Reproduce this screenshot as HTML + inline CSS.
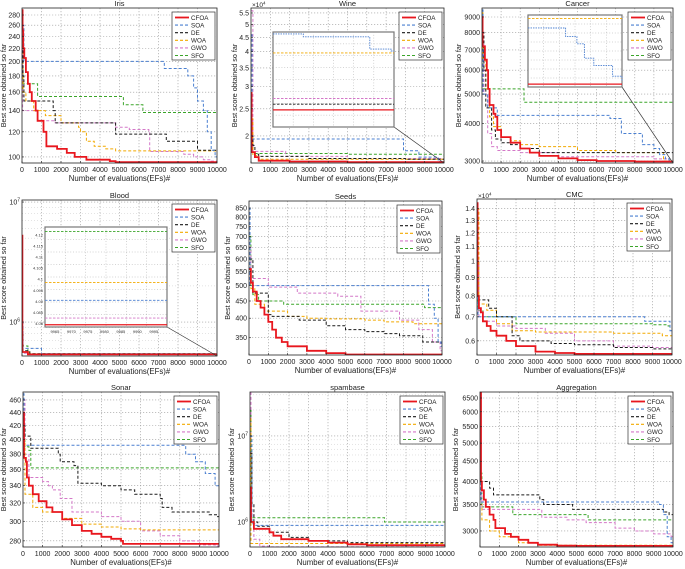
<!DOCTYPE html>
<html><head><meta charset="utf-8"><style>
body{margin:0;background:#fff}
svg{display:block;font-family:"Liberation Sans",Arial,sans-serif}
</style></head><body>
<svg id="fig" width="685" height="569" viewBox="0 0 685 569"></svg>
<script>
// ---------- data ----------
const algoNames = ["CFOA","SOA","DE","WOA","GWO","SFO"];
const xTicks = [0,1000,2000,3000,4000,5000,6000,7000,8000,9000,10000];

const irisCFOA=[[0,290],[30,250],[60,220],[120,205],[200,185],[300,170],[400,160],[500,150],[700,140],[800,130],[1100,120],[1250,108],[1800,106],[2300,103],[2700,100],[3300,98],[4500,97],[4800,96.3]];
const irisSOA=[[0,260],[100,200],[7300,190],[8500,180],[8800,165],[9000,150],[9300,140],[9500,120],[9700,105],[9900,100]];
const irisDE=[[0,240],[50,180],[100,150],[1600,140],[1700,128],[4800,118],[7400,112],[9000,105]];
const irisWOA=[[0,230],[50,160],[200,150],[600,140],[1200,135],[2000,128],[2900,124],[3000,120],[3300,112],[3700,108],[4300,106],[4800,104.5]];
const irisGWO=[[0,280],[30,140],[700,140],[800,130],[1700,128],[4600,128],[4800,124],[5500,122],[6500,120],[6550,104],[8300,102],[8800,100],[9300,98],[9700,97]];
const irisSFO=[[0,190],[50,170],[800,155],[5200,146],[6200,138]];

const wineCFOA=[[0,2.85],[30,1.75],[200,1.68],[400,1.63],[2000,1.62],[5000,1.61]];
const wineSOA=[[0,4.6],[50,1.95],[7900,1.77],[8700,1.68],[9700,1.62]];
const wineDE=[[0,2.0],[100,1.85],[200,1.72],[400,1.69],[3000,1.66],[8000,1.65]];
const wineWOA=[[0,2.3],[100,1.7],[400,1.65],[10000,1.65]];
const wineGWO=[[0,5.6],[100,1.76],[1800,1.69],[5000,1.66]];
const wineSFO=[[0,1.9],[100,1.73],[5000,1.72],[10000,1.66]];

const cancerCFOA=[[0,9000],[30,7200],[150,6500],[250,6000],[320,5200],[400,4600],[600,4300],[700,4200],[800,3800],[1000,3600],[1500,3450],[2000,3300],[2500,3200],[3000,3120],[4000,3060],[5000,3020],[6000,3000],[8000,2990]];
const cancerSOA=[[0,9500],[50,5000],[300,4500],[800,4250],[6700,4150],[7300,3700],[8400,3400],[9000,3300],[9300,3150],[9600,3050],[9800,2980]];
const cancerDE=[[0,8000],[100,6000],[200,4500],[500,3800],[700,3550],[1000,3450],[1500,3400],[2000,3300],[3000,3200]];
const cancerWOA=[[0,9300],[50,6500],[200,5200],[400,4200],[600,3900],[1000,3600],[1500,3500],[2000,3400],[3000,3350],[5000,3250],[7000,3200],[9500,3000]];
const cancerGWO=[[0,7500],[100,5000],[300,3700],[500,3350],[800,3250],[2000,3200],[4000,3100],[9000,3050],[9800,3000]];
const cancerSFO=[[0,8500],[50,5200],[2200,4700]];

const bloodCFOA=[[0,6.72],[20,5.75],[300,5.73]];
const bloodSOA=[[0,6.0],[50,5.78],[1000,5.735]];
const bloodDE=[[0,5.9],[50,5.76],[400,5.735]];
const bloodWOA=[[0,5.95],[50,5.75],[400,5.73]];
const bloodGWO=[[0,6.1],[30,5.74],[300,5.73]];
const bloodSFO=[[0,5.85],[50,5.8],[300,5.735]];

const seedsCFOA=[[0,560],[100,510],[200,480],[400,450],[600,430],[800,410],[1000,390],[1200,370],[1400,350],[1700,340],[2000,330],[3000,320],[4000,315],[5000,312]];
const seedsSOA=[[0,850],[50,500],[9300,440],[9600,400],[9800,340],[9950,330]];
const seedsDE=[[0,600],[200,475],[1000,410],[1200,405],[2600,395],[4000,380],[5000,370],[6000,365],[7000,360],[7800,355],[9000,340]];
const seedsWOA=[[0,560],[100,490],[300,440],[800,420],[2000,405],[3000,400],[4000,398],[6000,395],[7000,390],[8500,385]];
const seedsGWO=[[0,650],[100,525],[1000,495],[2500,475],[4600,465],[5800,420],[7800,395],[8800,370],[9500,340],[9900,320]];
const seedsSFO=[[0,700],[100,500],[200,470],[500,450],[1800,440],[9100,430]];

const cmcCFOA=[[0,1.45],[30,0.8],[100,0.74],[200,0.72],[300,0.68],[500,0.66],[700,0.64],[1000,0.62],[1500,0.6],[2000,0.58],[3000,0.56],[4000,0.555],[5000,0.552]];
const cmcSOA=[[0,1.2],[50,0.7],[8600,0.68],[9900,0.64]];
const cmcDE=[[0,1.3],[50,0.78],[600,0.74],[1000,0.7],[1800,0.62],[2200,0.6],[3800,0.59],[5000,0.585],[7000,0.575],[9000,0.57]];
const cmcWOA=[[0,1.4],[100,0.76],[500,0.73],[1000,0.67],[1800,0.64],[3000,0.635],[7000,0.63],[9500,0.62]];
const cmcGWO=[[0,1.0],[100,0.7],[300,0.68],[1000,0.66],[2000,0.65],[3500,0.63],[5000,0.6],[7000,0.58],[9000,0.575]];
const cmcSFO=[[0,1.1],[50,0.73],[300,0.7],[2000,0.67],[9000,0.665],[9800,0.66]];

const sonarCFOA=[[0,440],[50,375],[150,370],[200,350],[300,340],[500,330],[800,322],[1200,315],[1500,310],[2000,302],[2500,296],[3000,290],[3500,287],[4000,284],[4500,282],[5000,280],[5100,277]];
const sonarSOA=[[0,470],[50,392],[8300,380],[8800,370],[9300,355],[9800,340]];
const sonarDE=[[0,420],[100,405],[400,388],[1800,380],[1900,370],[2600,365],[2800,343],[4000,340],[5000,335],[5700,330],[7000,325],[7100,315],[7600,310],[9500,307],[9900,305]];
const sonarWOA=[[0,400],[100,330],[500,315],[1000,310],[2000,303],[3000,297],[4000,294],[5000,292],[6000,291]];
const sonarGWO=[[0,460],[100,380],[300,350],[1000,345],[1300,340],[1500,335],[1900,325],[2500,310],[4000,305],[5000,300],[6000,290],[7000,285],[8000,280],[9000,276],[9800,275]];
const sonarSFO=[[0,420],[100,390],[300,385],[400,362]];

const spamCFOA=[[0,6.4],[50,6.0],[200,5.92],[1000,5.88],[1200,5.84],[1600,5.8],[3000,5.78],[4000,5.76],[5000,5.74],[6000,5.73]];
const spamSOA=[[0,7.0],[100,5.98],[300,5.96]];
const spamDE=[[0,6.8],[100,6.2],[200,6.0],[400,5.95],[1000,5.88],[2000,5.82],[3000,5.78],[5000,5.76]];
const spamWOA=[[0,7.2],[50,5.75]];
const spamGWO=[[0,7.5],[50,6.1],[200,5.8],[500,5.72],[1000,5.71]];
const spamSFO=[[0,7.3],[50,6.05],[6800,6.05],[6900,6.0]];

const aggCFOA=[[0,6700],[50,4000],[100,3800],[200,3600],[300,3450],[500,3300],[700,3200],[800,3050],[1300,2950],[1600,2900],[2000,2850],[2500,2800],[3000,2770],[4000,2755],[5000,2750]];
const aggSOA=[[0,5000],[50,3550],[9300,3500],[9500,3300],[9700,2900],[9900,2800]];
const aggDE=[[0,4500],[50,4000],[500,3850],[700,3700],[3100,3600],[3300,3500],[4800,3400],[9500,3350],[9800,3300]];
const aggWOA=[[0,3500],[100,3200],[500,3000],[1000,2900],[2000,2800],[3000,2760]];
const aggGWO=[[0,4000],[100,3400],[3200,3250],[4500,3200],[5500,3150],[7000,3050],[8000,3000],[9000,2950],[9900,2900]];
const aggSFO=[[0,4200],[100,3450],[1700,3300],[5600,3200]];

const irisYTicks=[100,120,140,160,180,200,220,240,260,280];
const wineYTicks=[2,2.5,3,3.5,4,4.5,5,5.5];
const cancerYTicks=[3000,4000,5000,6000,7000,8000,9000];
const bloodYTicks=[6,7];
const seedsYTicks=[350,400,450,500,550,600,650,700,750,800,850];
const cmcYTicks=[0.6,0.7,0.8,0.9,1,1.1,1.2,1.3,1.4];
const sonarYTicks=[280,300,320,340,360,380,400,420,440,460];
const spamYTicks=[6,7];
const aggYTicks=[3000,3500,4000,4500,5000,5500,6000,6500];

// inset data (zoomed-in final values)
const wineInsetSOA=[[9600,0.98],[9700,0.95],[9920,0.82],[9990,0.8]];
const wineInsetLevels=[["WOA",0.78],["GWO",0.3],["DE",0.24],["CFOA",0.18]];
const cancerInsetSOA=[[9600,0.82],[9700,0.7],[9760,0.6],[9800,0.4],[9850,0.3],[9950,0.15],[10000,0.08]];
const cancerInsetLevels=[["WOA",0.95],["CFOA",0.04]];
const bloodInsetLevels=[["SFO",4.1215],["WOA",4.0985],["SOA",4.0905],["GWO",4.0825],["CFOA",4.0795]];
const bloodInsetYTicks=[4.08,4.085,4.09,4.095,4.1,4.105,4.11,4.115,4.12];
const bloodInsetXTicks=[9965,9970,9975,9980,9985,9990,9995];

// ---------- rendering ----------
const colors={CFOA:"#e8171e",SOA:"#4a7fd0",DE:"#1a1a1a",WOA:"#f2a900",GWO:"#d478c8",SFO:"#3ba52a"};
const NS="http://www.w3.org/2000/svg";
const svg=document.getElementById("fig");
function mk(tag,attrs,parent){const e=document.createElementNS(NS,tag);for(const k in attrs)e.setAttribute(k,attrs[k]);(parent||svg).appendChild(e);return e;}

const panels=[
 {id:"iris",title:"Iris",L:22,R:217,T:8,B:163,scale:"log",y0:95.7,y1:294.6,yt:irisYTicks,series:[irisCFOA,irisSOA,irisDE,irisWOA,irisGWO,irisSFO],ylx:3},
 {id:"wine",title:"Wine",L:251,R:444,T:8,B:163,scale:"log",y0:1.6,y1:5.73,yt:wineYTicks,series:[wineCFOA,wineSOA,wineDE,wineWOA,wineGWO,wineSFO],mult:"4",ylx:234},
 {id:"cancer",title:"Cancer",L:482,R:673,T:8,B:163,scale:"log",y0:2955,y1:9640,yt:cancerYTicks,series:[cancerCFOA,cancerSOA,cancerDE,cancerWOA,cancerGWO,cancerSFO],ylx:458},
 {id:"blood",title:"Blood",L:22,R:217,T:200,B:356,scale:"exp",y0:5.717,y1:7.017,yt:bloodYTicks,series:[bloodCFOA,bloodSOA,bloodDE,bloodWOA,bloodGWO,bloodSFO],ylx:3},
 {id:"seeds",title:"Seeds",L:249,R:442,T:201,B:355,scale:"log",y0:311,y1:892,yt:seedsYTicks,series:[seedsCFOA,seedsSOA,seedsDE,seedsWOA,seedsGWO,seedsSFO],ylx:227},
 {id:"cmc",title:"CMC",L:477,R:672,T:199,B:355,scale:"log",y0:0.548,y1:1.49,yt:cmcYTicks,series:[cmcCFOA,cmcSOA,cmcDE,cmcWOA,cmcGWO,cmcSFO],mult:"4",ylx:457},
 {id:"sonar",title:"Sonar",L:23,R:219,T:392,B:547,scale:"log",y0:274,y1:473,yt:sonarYTicks,series:[sonarCFOA,sonarSOA,sonarDE,sonarWOA,sonarGWO,sonarSFO],ylx:3},
 {id:"spambase",title:"spambase",L:250,R:445,T:392,B:547,scale:"exp",y0:5.709,y1:7.51,yt:spamYTicks,series:[spamCFOA,spamSOA,spamDE,spamWOA,spamGWO,spamSFO],ylx:231},
 {id:"aggregation",title:"Aggregation",L:480,R:673,T:392,B:547,scale:"log",y0:2733,y1:6731,yt:aggYTicks,series:[aggCFOA,aggSOA,aggDE,aggWOA,aggGWO,aggSFO],ylx:455}
];

function stepPath(pts,xs,ys){let d="M"+xs(pts[0][0]).toFixed(1)+" "+ys(pts[0][1]).toFixed(1);
 for(let i=1;i<pts.length;i++){d+=" H"+xs(pts[i][0]).toFixed(1)+" V"+ys(pts[i][1]).toFixed(1);}
 d+=" H"+xs(10000).toFixed(1);return d;}

panels.forEach(p=>{
 const g=mk("g",{});
 
 
 const xs=v=>p.L+(v/10000)*(p.R-p.L);
 const tf=v=>p.scale==="log"?Math.log(v):v;
 const ys=v=>p.B-(tf(v)-tf(p.y0))/(tf(p.y1)-tf(p.y0))*(p.B-p.T);
 mk("rect",{x:p.L,y:p.T,width:p.R-p.L,height:p.B-p.T,fill:"#fff"},g);
 // grid
 const grid=mk("g",{stroke:"#9a9a9a","stroke-width":0.6,"stroke-dasharray":"1.2,1.8"},g);
 
 
 xTicks.forEach(t=>{if(t>0&&t<10000)mk("line",{x1:xs(t),x2:xs(t),y1:p.T,y2:p.B},grid);});
 p.yt.forEach(t=>mk("line",{x1:p.L,x2:p.R,y1:ys(t),y2:ys(t)},grid));
 if(p.scale==="exp"){ // minor log grid
  const mg=mk("g",{stroke:"#c8c8c8","stroke-width":0.5,"stroke-dasharray":"1,2"},g);
  for(let d=5;d<=7;d++)for(let m=2;m<10;m++){const v=d+Math.log10(m);if(v>p.y0&&v<p.y1)mk("line",{x1:p.L,x2:p.R,y1:ys(v),y2:ys(v)},mg);}
 }
 // series
 const clipId="clip-"+p.id;
 const cp=mk("clipPath",{id:clipId},g);mk("rect",{x:p.L,y:p.T,width:p.R-p.L,height:p.B-p.T},cp);
 const sg=mk("g",{"clip-path":"url(#"+clipId+")",fill:"none"},g);
 for(let i=p.series.length-1;i>=0;i--){
  const name=algoNames[i];
  const path=mk("path",{d:stepPath(p.series[i],xs,ys),stroke:colors[name],"stroke-width":i===0?1.8:1,"stroke-dasharray":i===0?"none":"3,2"},sg);
  
  
 }
 // frame
 mk("rect",{x:p.L,y:p.T,width:p.R-p.L,height:p.B-p.T,fill:"none",stroke:"#222","stroke-width":0.8},g);
 // x ticks
 xTicks.forEach(t=>{
  mk("line",{x1:xs(t),x2:xs(t),y1:p.B,y2:p.B-2,stroke:"#222","stroke-width":0.6},g);
  const tx=mk("text",{x:xs(t),y:p.B+9,"font-size":7,"text-anchor":"middle",fill:"#222"},g);tx.textContent=t;
  
  
 });
 // y ticks
 p.yt.forEach(t=>{
  mk("line",{x1:p.L,x2:p.L+2,y1:ys(t),y2:ys(t),stroke:"#222","stroke-width":0.6},g);
  const ty=mk("text",{x:p.L-2,y:ys(t)+2.5,"font-size":7,"text-anchor":"end",fill:"#222"},g);
  if(p.scale==="exp"){ty.textContent="10";const s=mk("tspan",{"font-size":5,dy:-3},ty);s.textContent=String(t);}
  else ty.textContent=String(t);
  
  
 });
 if(p.mult){const m=mk("text",{x:p.L+1,y:p.T-1,"font-size":6.5,fill:"#222"},g);m.textContent="×10";const s=mk("tspan",{"font-size":4.5,dy:-2.5},m);s.textContent=p.mult;
  }
 // title
 const ti=mk("text",{x:(p.L+p.R)/2,y:p.T-2,"font-size":7.5,"text-anchor":"middle",fill:"#222"},g);ti.textContent=p.title;
 
 const xl=mk("text",{x:(p.L+p.R)/2,y:p.B+18,"font-size":7.8,"text-anchor":"middle",fill:"#222"},g);xl.textContent="Number of evaluations(EFs)#";
 
 const yl=mk("text",{x:0,y:0,"font-size":7.2,"text-anchor":"middle",fill:"#222",transform:"translate("+(p.ylx+3)+","+((p.T+p.B)/2)+") rotate(-90)"},g);yl.textContent="Best score obtained so far";
 
 // legend
 const lx=p.R-45,ly=p.T+4;
 const lg=mk("g",{},g);
 
 
 mk("rect",{x:lx,y:ly,width:43,height:48,fill:"#fff",stroke:"#333","stroke-width":0.7},lg);
 algoNames.forEach((n,i)=>{
  const yy=ly+5.5+i*7.6;
  mk("line",{x1:lx+3,x2:lx+17,y1:yy,y2:yy,stroke:colors[n],"stroke-width":i===0?1.8:1.1,"stroke-dasharray":i===0?"none":"3,2"},lg);
  const t=mk("text",{x:lx+19,y:yy+2.3,"font-size":6.3,fill:"#222"},lg);t.textContent=n;
  
 });
 p.xs=xs;p.ys=ys;
});

// ---------- insets ----------
function inset(pIdx,box,xd,yd,soa,levels,yTicks,xTicksI){
 const p=panels[pIdx];
 const g=mk("g",{});
 
 
 mk("line",{x1:box.x+box.w,y1:box.y+box.h,x2:p.R,y2:p.B,stroke:"#333","stroke-width":0.7},g);
 mk("rect",{x:box.x,y:box.y,width:box.w,height:box.h,fill:"#fff",stroke:"#777","stroke-width":1.2},g);
 const ix=v=>box.x+(v-xd[0])/(xd[1]-xd[0])*box.w;
 const iy=v=>box.y+box.h-(v-yd[0])/(yd[1]-yd[0])*box.h;
 const gg=mk("g",{stroke:"#aaa","stroke-width":0.5,"stroke-dasharray":"1,1.8"},g);
 for(let k=1;k<8;k++)mk("line",{x1:box.x,x2:box.x+box.w,y1:box.y+k*box.h/8,y2:box.y+k*box.h/8},gg);
 for(let k=1;k<6;k++)mk("line",{x1:box.x+k*box.w/6,x2:box.x+k*box.w/6,y1:box.y,y2:box.y+box.h},gg);
 levels.forEach(([n,v])=>{const l=mk("line",{x1:box.x,x2:box.x+box.w,y1:iy(v),y2:iy(v),stroke:colors[n],"stroke-width":n==="CFOA"?1.2:0.9,"stroke-dasharray":n==="CFOA"?"none":"2.5,1.5"},g);
  });
 if(soa){let d="M"+box.x+" "+iy(soa[0][1]);soa.forEach(pt=>{d+=" H"+ix(pt[0]).toFixed(1)+" V"+iy(pt[1]).toFixed(1);});d+=" H"+(box.x+box.w);
  const s=mk("path",{d:d,fill:"none",stroke:colors.SOA,"stroke-width":0.9,"stroke-dasharray":"1.5,1"},g);
  }
 if(yTicks){yTicks.forEach(t=>{const tt=mk("text",{x:box.x-2,y:iy(t)+1.5,"font-size":4,"text-anchor":"end",fill:"#333"},g);tt.textContent=t;});}
 if(xTicksI){xTicksI.forEach(t=>{const tt=mk("text",{x:ix(t),y:box.y+box.h+6,"font-size":4,"text-anchor":"middle",fill:"#333"},g);tt.textContent=t;});}
}
inset(1,{x:273,y:32,w:121,h:95},[9600,10000],[0,1],wineInsetSOA,wineInsetLevels,null,null);
inset(2,{x:528,y:15,w:94,h:72},[9500,10000],[0,1],cancerInsetSOA,cancerInsetLevels,null,null);
inset(3,{x:45,y:227,w:122,h:100},[9962,9999],[4.0785,4.1235],null,bloodInsetLevels,bloodInsetYTicks,bloodInsetXTicks);
</script>
</body></html>
